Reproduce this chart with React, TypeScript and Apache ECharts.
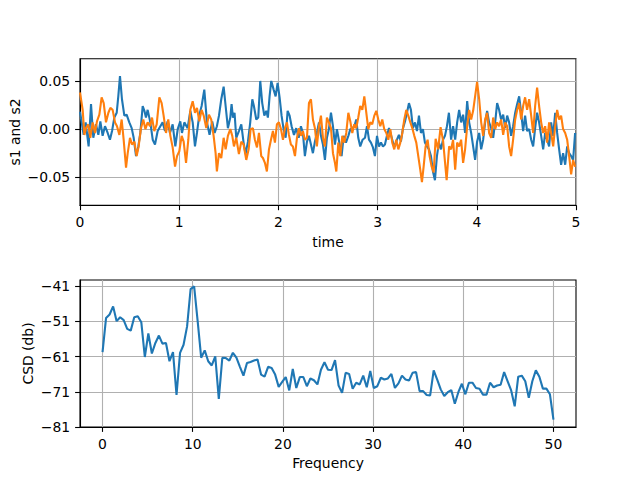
import * as echarts from 'echarts';
import { useEffect, useRef } from 'react';

// signals: [time, value]
const s1: [number, number][] = [
  [0, 0.018], [0.037, -0.006], [0.057, 0.007], [0.087, -0.018], [0.111, 0.026], [0.134, -0.009], [0.161, 0.005],
  [0.185, -0.006], [0.205, 0.008], [0.228, -0.007], [0.252, 0.003], [0.279, -0.004], [0.302, -0.011], [0.323, -0.002],
  [0.346, 0.012], [0.37, 0.017], [0.386, 0.034], [0.403, 0.055], [0.423, 0.031], [0.447, 0.014], [0.47, 0.015],
  [0.497, 0.007], [0.521, 0.001], [0.541, -0.009], [0.565, -0.028], [0.588, -0.018], [0.608, -0.004], [0.632, 0.024],
  [0.649, 0.019], [0.665, 0.012], [0.682, 0.02], [0.709, 0.007], [0.733, -0.011], [0.756, -0.016], [0.783, -0.002],
  [0.81, 0.003], [0.833, 0.007], [0.857, -0.002], [0.884, 0.008], [0.907, -0.004], [0.934, 0.005], [0.961, -0.018],
  [0.985, 0.0], [1.011, 0.008], [1.028, -0.004], [1.052, 0.007], [1.085, 0.001], [1.112, 0.019], [1.136, 0.007],
  [1.159, -0.018], [1.179, -0.004], [1.203, 0.015], [1.226, 0.024], [1.253, 0.041], [1.28, 0.007], [1.306, -0.006],
  [1.333, 0.008], [1.357, -0.004], [1.38, 0.003], [1.401, 0.014], [1.424, 0.031], [1.448, 0.044], [1.468, 0.024],
  [1.491, 0.001], [1.515, 0.012], [1.528, 0.026], [1.542, 0.012], [1.558, 0.017], [1.575, -0.009], [1.602, -0.002],
  [1.626, 0.005], [1.649, -0.014], [1.669, -0.026], [1.693, -0.013], [1.716, 0.007], [1.737, 0.031], [1.753, 0.024],
  [1.777, 0.01], [1.797, 0.012], [1.817, 0.05], [1.837, 0.027], [1.858, 0.014], [1.878, 0.019], [1.894, 0.012],
  [1.911, 0.034], [1.928, 0.05], [1.952, 0.041], [1.972, 0.034], [1.992, 0.048], [2.012, 0.033], [2.032, 0.014],
  [2.052, 0.0], [2.073, -0.009], [2.093, 0.019], [2.113, 0.014], [2.133, 0.003], [2.157, -0.006], [2.18, 0.001],
  [2.204, -0.009], [2.227, 0.003], [2.247, -0.004], [2.267, -0.028], [2.288, -0.013], [2.308, -0.007], [2.328, -0.016],
  [2.348, -0.025], [2.368, -0.013], [2.388, -0.004], [2.409, 0.007], [2.429, -0.007], [2.449, -0.016], [2.469, -0.032],
  [2.489, -0.009], [2.509, 0.0], [2.53, 0.017], [2.55, 0.003], [2.57, -0.016], [2.59, 0.0], [2.614, -0.014],
  [2.637, -0.028], [2.658, -0.007], [2.681, -0.014], [2.705, -0.007], [2.725, 0.0], [2.745, 0.001], [2.765, 0.003],
  [2.785, 0.01], [2.805, -0.009], [2.825, -0.018], [2.849, -0.011], [2.873, -0.009], [2.893, 0.003], [2.913, -0.011],
  [2.933, -0.014], [2.953, -0.019], [2.973, -0.028], [2.994, -0.007], [3.014, -0.018], [3.034, -0.014], [3.054, -0.018],
  [3.074, -0.016], [3.094, -0.007], [3.115, 0.001], [3.135, -0.006], [3.155, -0.014], [3.175, -0.018], [3.195, -0.011],
  [3.215, -0.006], [3.235, -0.013], [3.256, 0.001], [3.276, 0.008], [3.296, 0.017], [3.316, 0.027], [3.336, 0.02],
  [3.356, 0.001], [3.377, 0.007], [3.397, -0.002], [3.417, 0.014], [3.437, -0.004], [3.457, 0.0], [3.477, -0.014],
  [3.498, -0.018], [3.518, -0.021], [3.538, -0.028], [3.558, -0.044], [3.578, -0.053], [3.598, -0.028], [3.618, -0.014],
  [3.639, -0.021], [3.659, -0.011], [3.679, -0.007], [3.699, 0.003], [3.719, 0.017], [3.741, -0.011], [3.761, 0.003],
  [3.782, -0.011], [3.802, 0.007], [3.822, 0.02], [3.842, 0.007], [3.862, 0.015], [3.882, -0.004], [3.903, 0.029],
  [3.923, 0.007], [3.943, -0.004], [3.963, -0.018], [3.983, -0.032], [4.003, -0.013], [4.024, -0.004], [4.044, -0.021],
  [4.064, -0.011], [4.084, 0.007], [4.104, 0.019], [4.124, 0.007], [4.145, 0.001], [4.165, -0.009], [4.185, 0.007],
  [4.205, 0.027], [4.225, 0.02], [4.245, 0.01], [4.266, 0.015], [4.286, 0.001], [4.306, 0.014], [4.326, 0.007],
  [4.346, -0.007], [4.366, 0.003], [4.387, 0.017], [4.407, 0.026], [4.427, 0.034], [4.447, 0.017], [4.467, -0.002],
  [4.487, 0.014], [4.507, -0.002], [4.528, 0.0], [4.548, -0.011], [4.568, -0.018], [4.588, 0.001], [4.608, 0.017],
  [4.628, 0.007], [4.649, -0.007], [4.669, -0.021], [4.689, -0.004], [4.709, -0.011], [4.729, -0.018], [4.749, 0.007],
  [4.77, -0.007], [4.79, 0.017], [4.81, -0.004], [4.83, -0.021], [4.85, -0.037], [4.87, -0.025], [4.891, -0.037],
  [4.911, -0.018], [4.931, -0.025], [4.951, -0.028], [4.971, -0.032], [4.991, -0.004],
];

const s2: [number, number][] = [
  [0, 0.038], [0.027, 0.02], [0.044, -0.006], [0.06, 0.001], [0.084, 0.005], [0.104, -0.009], [0.128, 0.007],
  [0.151, -0.004], [0.171, 0.008], [0.195, 0.015], [0.218, 0.033], [0.239, 0.027], [0.262, 0.007], [0.286, 0.017],
  [0.306, 0.022], [0.329, 0.02], [0.353, 0.007], [0.373, 0.003], [0.397, -0.006], [0.42, 0.01], [0.44, -0.011],
  [0.464, -0.04], [0.481, -0.025], [0.504, -0.009], [0.524, -0.016], [0.548, -0.013], [0.571, -0.028], [0.591, -0.018],
  [0.615, 0.001], [0.638, 0.01], [0.659, 0.0], [0.682, 0.007], [0.706, 0.003], [0.726, 0.012], [0.749, -0.002],
  [0.773, 0.005], [0.8, 0.033], [0.823, 0.027], [0.843, 0.014], [0.867, -0.004], [0.89, 0.01], [0.911, -0.007],
  [0.934, -0.019], [0.958, -0.039], [0.978, -0.028], [1.001, -0.023], [1.025, -0.007], [1.045, -0.013], [1.069, -0.035],
  [1.092, -0.011], [1.112, 0.02], [1.136, 0.029], [1.159, 0.017], [1.179, 0.022], [1.203, 0.008], [1.226, 0.02],
  [1.247, 0.014], [1.273, 0.001], [1.3, 0.015], [1.323, 0.01], [1.347, -0.007], [1.367, -0.025], [1.38, -0.044],
  [1.401, -0.025], [1.424, -0.03], [1.448, -0.009], [1.468, -0.021], [1.491, -0.007], [1.515, 0.0], [1.535, -0.007],
  [1.552, -0.018], [1.575, -0.009], [1.602, -0.026], [1.626, -0.013], [1.649, -0.016], [1.676, -0.032], [1.7, -0.021],
  [1.72, 0.0], [1.743, 0.001], [1.763, -0.011], [1.784, -0.019], [1.804, -0.004], [1.827, -0.028], [1.844, -0.03],
  [1.864, -0.035], [1.884, -0.044], [1.905, -0.021], [1.925, -0.011], [1.945, -0.002], [1.965, -0.014], [1.985, 0.005],
  [2.005, 0.007], [2.026, 0.0], [2.046, -0.011], [2.066, 0.001], [2.086, 0.007], [2.106, -0.006], [2.126, -0.016],
  [2.146, -0.018], [2.167, -0.028], [2.187, -0.009], [2.207, 0.001], [2.227, -0.007], [2.247, -0.002], [2.267, -0.011],
  [2.288, -0.009], [2.308, 0.027], [2.328, 0.031], [2.348, 0.01], [2.368, 0.001], [2.388, -0.018], [2.409, 0.003],
  [2.429, 0.014], [2.449, -0.009], [2.469, -0.018], [2.489, 0.012], [2.509, 0.007], [2.53, 0.001], [2.55, -0.025],
  [2.57, -0.035], [2.584, -0.044], [2.604, -0.014], [2.624, -0.028], [2.644, -0.007], [2.664, -0.014], [2.684, -0.004],
  [2.705, 0.017], [2.725, 0.008], [2.745, -0.004], [2.765, 0.005], [2.785, 0.001], [2.805, 0.012], [2.825, 0.024],
  [2.846, 0.02], [2.866, 0.034], [2.886, 0.017], [2.906, 0.0], [2.926, 0.007], [2.946, 0.005], [2.967, 0.014],
  [2.987, 0.019], [3.007, 0.01], [3.027, 0.003], [3.047, 0.01], [3.067, 0.0], [3.088, -0.004], [3.108, -0.011],
  [3.128, 0.0], [3.148, -0.014], [3.168, -0.021], [3.188, -0.011], [3.209, -0.021], [3.229, -0.014], [3.249, -0.004],
  [3.269, 0.01], [3.289, 0.02], [3.309, 0.014], [3.33, 0.007], [3.35, 0.001], [3.37, -0.007], [3.39, -0.014],
  [3.41, -0.028], [3.43, -0.042], [3.447, -0.055], [3.464, -0.039], [3.484, -0.018], [3.504, -0.011], [3.524, -0.028],
  [3.545, -0.039], [3.565, -0.045], [3.585, -0.01], [3.61, -0.021], [3.635, 0.002], [3.66, -0.012], [3.696, -0.053],
  [3.721, -0.018], [3.741, -0.021], [3.761, -0.011], [3.782, -0.042], [3.802, -0.014], [3.822, -0.018], [3.842, -0.011],
  [3.862, -0.035], [3.882, -0.021], [3.903, 0.003], [3.923, 0.02], [3.943, 0.01], [3.963, 0.019], [3.983, 0.034],
  [4.003, 0.049], [4.024, 0.031], [4.044, 0.007], [4.064, -0.007], [4.084, 0.01], [4.104, 0.017], [4.124, -0.004],
  [4.145, -0.009], [4.165, 0.012], [4.185, 0.0], [4.205, 0.007], [4.225, 0.003], [4.245, 0.01], [4.266, -0.006],
  [4.286, 0.007], [4.306, 0.003], [4.326, -0.018], [4.346, -0.028], [4.366, -0.011], [4.387, 0.01], [4.407, 0.02],
  [4.427, 0.027], [4.447, 0.01], [4.467, 0.024], [4.487, 0.033], [4.507, 0.02], [4.528, 0.031], [4.548, 0.014],
  [4.568, -0.004], [4.588, 0.024], [4.608, 0.043], [4.628, 0.024], [4.649, 0.007], [4.669, -0.004], [4.689, 0.003],
  [4.709, -0.014], [4.729, 0.007], [4.749, -0.004], [4.77, -0.018], [4.79, 0.003], [4.81, 0.02], [4.83, 0.01],
  [4.85, 0.014], [4.87, 0.0], [4.891, -0.004], [4.911, -0.011], [4.931, -0.028], [4.951, -0.047], [4.971, -0.032],
  [4.991, -0.039],
];

// cross spectral density, one value per frequency bin (NFFT 256, Fs 100 -> 129 bins, 0..50 Hz)
const FREQ_STEP = 50 / 128;
const csdDb = [
  -59.7, -50.0, -49.0, -46.7, -50.9, -49.8, -50.6, -53.1, -53.6, -49.8, -49.5, -51.2, -61.1, -54.4, -60.1, -57.1,
  -55.0, -57.3, -57.1, -62.3, -59.7, -71.9, -59.9, -57.6, -52.4, -41.8, -41.0, -50.9, -61.3, -59.2, -62.3, -63.5,
  -60.9, -73.0, -61.3, -61.4, -62.1, -59.9, -61.3, -63.9, -66.4, -62.8, -62.5, -62.1, -61.8, -66.1, -66.7, -63.9,
  -64.2, -66.1, -69.6, -68.2, -66.8, -70.6, -64.5, -69.9, -66.8, -66.8, -69.4, -67.2, -67.7, -68.9, -64.7, -62.6,
  -64.7, -64.8, -62.0, -69.2, -71.3, -65.6, -65.9, -70.1, -68.4, -68.9, -66.4, -69.7, -65.1, -69.9, -69.4, -67.0,
  -67.5, -67.2, -65.9, -69.9, -68.6, -66.4, -67.5, -67.8, -65.6, -65.4, -70.8, -70.8, -71.9, -72.0, -64.9, -67.5,
  -70.3, -72.2, -71.1, -70.5, -74.4, -71.1, -68.7, -71.7, -68.4, -68.4, -69.9, -70.1, -71.8, -71.8, -68.4, -69.7,
  -69.2, -69.0, -65.4, -68.0, -70.6, -75.1, -66.7, -66.4, -68.0, -72.7, -68.0, -64.9, -66.7, -70.1, -70.1, -71.7,
  -78.9,
];

const timeTicks = [0, 1, 2, 3, 4, 5];
const signalTicks = [-0.05, 0, 0.05];
const freqTicks = [0, 10, 20, 30, 40, 50];
const dbTicks = [-81, -71, -61, -51, -41];

const FONT = 'DejaVu Sans';
const FS = 13.9;
const minus = (s: string) => s.replace('-', '\u2212');

function axisBase(ticks: number[], fmt: (v: number) => string) {
  return {
    type: 'value' as const,
    nameLocation: 'middle' as const,
    nameMoveOverlap: false,
    nameTextStyle: { color: '#000', fontSize: FS, fontFamily: FONT },
    axisLine: { show: true, onZero: false, lineStyle: { color: '#000', width: 1.1 } },
    axisTick: { show: true, inside: false, length: 4.9, customValues: ticks, lineStyle: { color: '#000', width: 1.1 } },
    axisLabel: {
      show: true, margin: 9.8, customValues: ticks, color: '#000', fontSize: FS, fontFamily: FONT,
      formatter: (v: number) => fmt(v),
    },
    splitLine: { show: true, lineStyle: { color: '#b0b0b0', width: 1.1 } },
  };
}

export default function App() {
  const ref = useRef<HTMLDivElement>(null);

  useEffect(() => {
    if (!ref.current) return;
    const chart = echarts.init(ref.current, null, { renderer: 'svg' });

    chart.setOption({
      animation: false,
      backgroundColor: '#fff',
      textStyle: { fontFamily: FONT },
      grid: [
        {
          left: 80, top: 58.7, width: 496, height: 146.6, show: true, borderColor: '#000', borderWidth: 1.1,
          outerBoundsMode: 'none', containLabel: false,
        },
        {
          left: 80, top: 280, width: 496, height: 147, show: true, borderColor: '#000', borderWidth: 1.1,
          outerBoundsMode: 'none', containLabel: false,
        },
      ],
      xAxis: [
        {
          ...axisBase(timeTicks, v => String(v)),
          gridIndex: 0, min: 0, max: 5, name: 'time', nameGap: 30,
        },
        {
          ...axisBase(freqTicks, v => String(v)),
          gridIndex: 1, min: -2.5, max: 52.5, name: 'Frequency', nameGap: 29,
        },
      ],
      yAxis: [
        {
          ...axisBase(signalTicks, v => minus(v.toFixed(2))),
          gridIndex: 0, min: -0.0791, max: 0.0731, name: 's1 and s2', nameGap: 58,
        },
        {
          ...axisBase(dbTicks, v => minus(String(v))),
          gridIndex: 1, min: -81, max: -39.2, name: 'CSD (db)', nameGap: 45,
        },
      ],
      series: [
        {
          type: 'line', xAxisIndex: 0, yAxisIndex: 0, data: s1, showSymbol: false, symbol: 'none',
          lineStyle: { color: '#1f77b4', width: 2.1 }, itemStyle: { color: '#1f77b4' }, z: 3,
        },
        {
          type: 'line', xAxisIndex: 0, yAxisIndex: 0, data: s2, showSymbol: false, symbol: 'none',
          lineStyle: { color: '#ff7f0e', width: 2.1 }, itemStyle: { color: '#ff7f0e' }, z: 4,
        },
        {
          type: 'line', xAxisIndex: 1, yAxisIndex: 1,
          data: csdDb.map((d, i) => [i * FREQ_STEP, d]),
          showSymbol: false, symbol: 'none',
          lineStyle: { color: '#1f77b4', width: 2.1 }, itemStyle: { color: '#1f77b4' }, z: 3,
        },
      ],
    });

    return () => chart.dispose();
  }, []);

  return <div ref={ref} style={{ position: 'absolute', left: 0, top: 0, width: 640, height: 480 }} />;
}
